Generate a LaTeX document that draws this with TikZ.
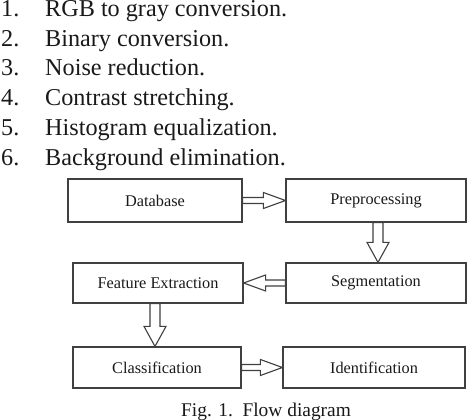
\documentclass[tikz,border=0pt]{standalone}
\usepackage{fontspec}
\setmainfont{Liberation Serif}
\usetikzlibrary{calc}
\definecolor{ink}{gray}{0.1}
\definecolor{boxline}{gray}{0.25}
\tikzset{
  listtxt/.style={anchor=base west,inner sep=0pt,font=\fontsize{24.2}{28}\selectfont,text=ink},
  stagebox/.style={draw=boxline,line width=1.2pt,rectangle,inner sep=0pt,font=\fontsize{16.3}{19}\selectfont,text=ink},
  blockarrow/.style={draw=boxline,line width=1.1pt,fill=white,line join=miter},
  captxt/.style={inner sep=0pt,font=\fontsize{19.4}{23}\selectfont,text=ink}
}
% horizontal block arrow: #1 start, #2 tip, #3 = +1 rightwards, -1 leftwards
\newcommand\harrowblk[3]{%
  \draw[blockarrow] ($(#1)+(0,-3)$) -- ($(#2)+(-22*#3,-3)$) -- ($(#2)+(-22*#3,-8)$) -- (#2)
    -- ($(#2)+(-22*#3,8)$) -- ($(#2)+(-22*#3,3)$) -- ($(#1)+(0,3)$) -- cycle;}
% vertical (downward) block arrow: #1 start, #2 tip
\newcommand\varrowblk[2]{%
  \draw[blockarrow] ($(#1)+(-5,0)$) -- ($(#2)+(-5,-20)$) -- ($(#2)+(-11,-20)$) -- (#2)
    -- ($(#2)+(11,-20)$) -- ($(#2)+(5,-20)$) -- ($(#1)+(5,0)$) -- cycle;}
\begin{document}
\begin{tikzpicture}[x=1pt,y=-1pt]
\useasboundingbox (0,0) rectangle (474,420);
% list
\foreach \n/\t/\y in {1/RGB to gray conversion./17,2/Binary conversion./47,3/Noise reduction./76,
  4/Contrast stretching./106,5/Histogram equalization./135,6/Background elimination./165}{
  \node[listtxt] (num\n) at (1,\y) {\n.};
  \node[listtxt] (item\n) at (45,\y) {\t};
}
% boxes
\node[stagebox,minimum width=174pt,minimum height=43pt] (db)  at (155,200.5) {Database};
\node[stagebox,minimum width=180pt,minimum height=43pt] (pre) at (376,200.5) {Preprocessing};
\node[stagebox,minimum width=180pt,minimum height=40pt] (seg) at (376,283) {Segmentation};
\node[stagebox,minimum width=170pt,minimum height=40pt] (fe)  at (158,283) {Feature Extraction};
\node[stagebox,minimum width=168pt,minimum height=41pt] (cl)  at (157,367.5) {Classification};
\node[stagebox,minimum width=182pt,minimum height=41pt] (id)  at (374,367.5) {Identification};
% connectors
\coordinate (a1s) at (db.east);   \coordinate (a1t) at (pre.west);
\coordinate (a2s) at ($(pre.south)+(2,0)$); \coordinate (a2t) at ($(seg.north)+(2,0)$);
\coordinate (a3s) at (seg.west);  \coordinate (a3t) at (fe.east);
\coordinate (a4s) at ($(fe.south)+(-3,0)$); \coordinate (a4t) at ($(cl.north)+(-2,0)$);
\coordinate (a5s) at (cl.east);   \coordinate (a5t) at (id.west);
\harrowblk{a1s}{a1t}{1}
\varrowblk{a2s}{a2t}
\harrowblk{a3s}{a3t}{-1}
\varrowblk{a4s}{a4t}
\harrowblk{a5s}{a5t}{1}
% caption
\node[captxt,anchor=base] (cap) at (266,416) {Fig. 1.\ \ Flow diagram};
\end{tikzpicture}
\end{document}
